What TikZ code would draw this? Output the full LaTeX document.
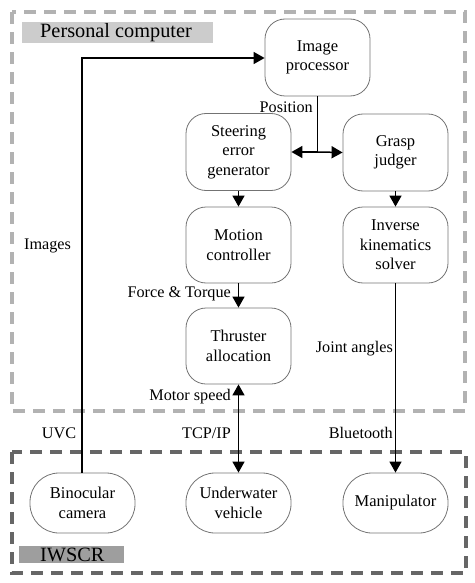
\documentclass[tikz,border=0pt]{standalone}
\usepackage{fontspec}
\setmainfont{Liberation Serif}
\usetikzlibrary{arrows.meta}
\begin{document}
\begin{tikzpicture}[x=1pt,y=-1pt,
  blk/.style={draw=black!55,line width=0.8pt,rounded corners=20pt,minimum width=105pt,minimum height=77pt,align=center,inner sep=1pt,font=\fontsize{16.5}{19.5}\selectfont},
  dev/.style={blk,rounded corners=29pt,minimum height=60pt},
  conn/.style={line width=1.5pt,-{Triangle[length=11pt,width=12pt]}},
  bconn/.style={line width=1.5pt,{Triangle[length=11pt,width=12pt]}-{Triangle[length=11pt,width=12pt]}},
  lbl/.style={font=\fontsize{16.2}{19}\selectfont,inner sep=0pt},
  grp/.style={dash pattern=on 12pt off 8pt,line width=3.2pt},
  tag/.style={font=\fontsize{20.3}{22}\selectfont,inner sep=0pt}]
\useasboundingbox (0,0) rectangle (474,583);
% group boxes
\draw[grp,draw=black!30] (12,12) rectangle (465,411);
\draw[grp,draw=black!60] (12,452) rectangle (466,573);
\fill[black!20] (21.5,22.5) rectangle (212.5,43.5);
\node[tag,anchor=west] (pclbl) at (40,33) {Personal computer};
\fill[black!38] (19,546) rectangle (124,563);
\node[tag,anchor=west] (iwlbl) at (40,554.5) {IWSCR};
% nodes
\node[blk] (ip) at (317.5,57.5) {Image\\processor};
\node[blk] (seg) at (238.5,152) {Steering\\error\\generator};
\node[blk] (gj) at (395.5,152.5) {Grasp\\judger};
\node[blk,minimum height=76pt] (mc) at (238.5,245) {Motion\\controller};
\node[blk,minimum height=76pt] (iks) at (395.5,245) {Inverse\\kinematics\\solver};
\node[blk,minimum height=76pt] (ta) at (238.5,346) {Thruster\\allocation};
\node[dev] (cam) at (82.5,503) {Binocular\\camera};
\node[dev] (uv) at (238.5,503) {Underwater\\vehicle};
\node[dev] (man) at (395.5,503) {Manipulator};
% connectors
\coordinate (c1) at (82,58);
\draw[conn] (cam.north -| c1) -- (c1) -- (ip.west |- c1);
\coordinate (j) at (ip.south |- seg.east);
\draw[line width=1.5pt] (ip.south) -- (j);
\draw[conn] (j) -- (seg.east);
\draw[conn] (j) -- (gj.west);
\draw[conn] (seg.south) -- (mc.north);
\draw[conn] (gj.south) -- (iks.north);
\draw[conn] (mc.south) -- (ta.north);
\draw[bconn] (ta.south) -- (uv.north);
\draw[conn] (iks.south) -- (man.north);
% labels
\node[lbl,anchor=east] (lpos) at (313,107) {Position};
\node[lbl] (limg) at (47.5,246) {Images};
\node[lbl] (luvc) at (59,433) {UVC};
\node[lbl,anchor=east] (lft) at (231,294) {Force \& Torque};
\node[lbl,anchor=east] (lms) at (231,397) {Motor speed};
\node[lbl,anchor=east] (ltcp) at (231,433) {TCP/IP};
\node[lbl,anchor=east] (lja) at (393,349) {Joint angles};
\node[lbl,anchor=east] (lbt) at (393,433) {Bluetooth};
\end{tikzpicture}
\end{document}
